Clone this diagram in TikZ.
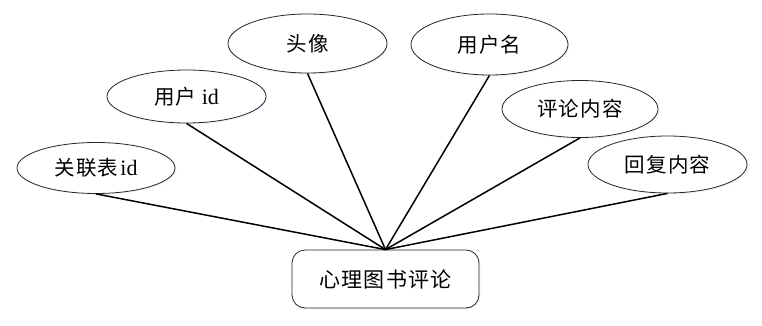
\documentclass[tikz,border=0pt]{standalone}
\usepackage{fontspec}
\setmainfont{Liberation Serif}
\newfontfamily\cjk[LetterSpace=6]{Noto Sans CJK SC}
\usetikzlibrary{shapes.geometric,shadows}
\tikzset{
  attr/.style={ellipse, draw=black!85, line width=0.8pt, fill=white, inner sep=0pt,
    font=\fontsize{20.5}{22}\selectfont,
    drop shadow={opacity=0.12, shadow xshift=1.5pt, shadow yshift=-1.5pt, fill=blue!40}},
  ent/.style={rectangle, rounded corners=13pt, draw=black!85, line width=0.8pt, fill=white,
    minimum width=187pt, minimum height=58pt, inner sep=0pt,
    font=\fontsize{21}{23}\selectfont,
    drop shadow={opacity=0.12, shadow xshift=1.5pt, shadow yshift=-1.5pt, fill=blue!40}},
  link/.style={draw=black, line width=1.5pt}
}
\begin{document}
\begin{tikzpicture}[x=1pt,y=-1pt]
\useasboundingbox (0,0) rectangle (762,326);
\node[ent] (e) at (385.5,279) {\cjk 心理图书评论};
\node[attr, minimum width=158pt, minimum height=51pt] (a1) at (96,168) {\cjk 关联表\rmfamily\fontsize{22}{22}\selectfont\hspace{2pt}id};
\node[attr, minimum width=159pt, minimum height=53pt] (a2) at (186.5,96.5) {\cjk 用户\rmfamily\fontsize{22}{22}\selectfont\ id};
\node[attr, minimum width=159pt, minimum height=59pt] (a3) at (307.5,43.5) {\cjk 头像};
\node[attr, minimum width=157pt, minimum height=61pt] (a4) at (489.5,44.5) {\cjk 用户名};
\node[attr, minimum width=156pt, minimum height=57pt] (a5) at (580,109) {\cjk 评论内容};
\node[attr, minimum width=159pt, minimum height=57pt] (a6) at (667.5,164.5) {\cjk 回复内容};
\foreach \n in {a1,a2,a3,a4,a5,a6} \draw[link] (\n.south) -- (e.north);
\end{tikzpicture}
\end{document}
